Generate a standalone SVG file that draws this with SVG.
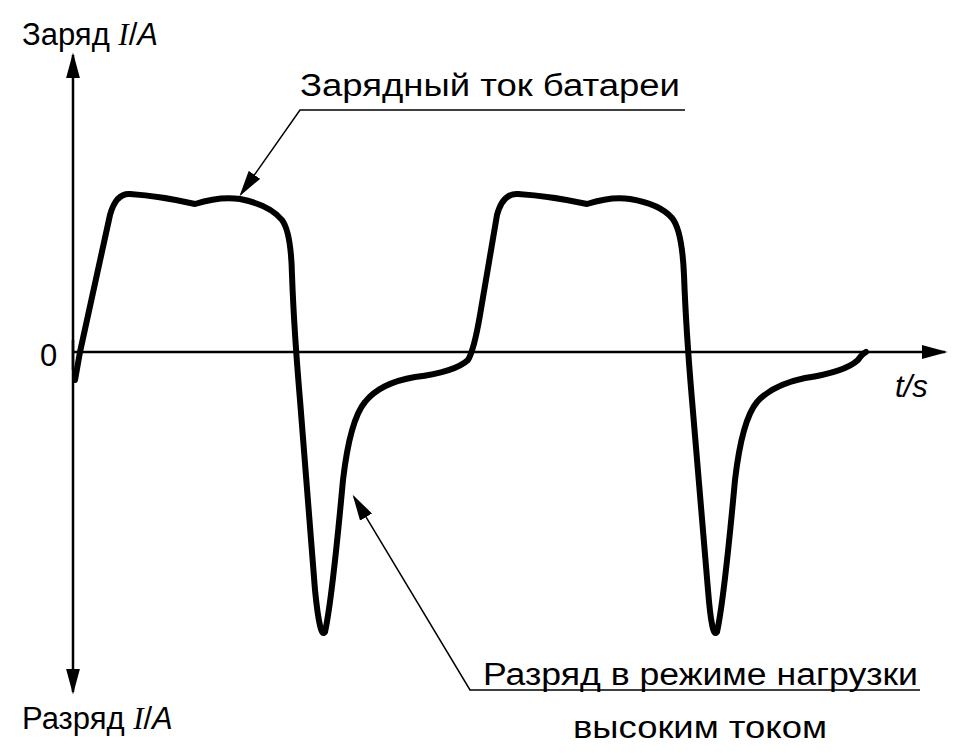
<svg xmlns="http://www.w3.org/2000/svg" width="967" height="753" viewBox="0 0 967 753">
<style>
text{font-family:"Liberation Sans",Arial,sans-serif;font-size:31px;fill:#000}
.ax{stroke:#000;stroke-width:2.5;fill:none}
.thin{stroke:#000;stroke-width:1.5;fill:none}
.curve{stroke:#000;stroke-width:6;fill:none;stroke-linejoin:round;stroke-linecap:round}
</style>
<defs>
<marker id="big" viewBox="0 0 10 10" refX="9" refY="5" markerWidth="26" markerHeight="14" markerUnits="userSpaceOnUse" orient="auto" preserveAspectRatio="none"><path d="M0,0 L10,5 L0,10 z" fill="#000"/></marker>
</defs>
<rect width="967" height="753" fill="#fff"/>
<g id="axes">
<line class="ax" x1="73" y1="370" x2="73" y2="55" marker-end="url(#big)"/>
<line class="ax" x1="73" y1="340" x2="73" y2="692" marker-end="url(#big)"/>
<line class="ax" x1="73" y1="352" x2="945" y2="352" marker-end="url(#big)"/>
</g>
<g id="curve">
<path class="curve" d="M75,380 L80,352 L110,215 Q116,193 130,194 Q160,196 195,204 Q220,196 240,199 Q270,205 282,220 Q291,232 292,275 Q294,330 300,400 L315,590 Q320,640 325,632 Q332,600 343,480 Q350,420 365,402 Q380,383 415,377 Q455,372 468,360 Q474,350 480,315 L497,215 Q503,193 518,194 Q550,196 587,204 Q612,196 630,199 Q660,204 672,218 Q682,230 684,275 Q686,330 692,400 L708,590 Q712,640 717,632 Q724,600 735,480 Q742,420 757,402 Q772,385 805,378 Q845,372 858,360 Q862,354 866,352"/>
</g>
<g id="connectors">
<polyline class="thin" points="685,110 300,110 241,194" marker-end="url(#big)"/>
<polyline class="thin" points="920,690 470,690 354,497" marker-end="url(#big)"/>
</g>
<g id="labels">
<text x="22" y="45">Заряд <tspan font-family="Liberation Serif" font-style="italic">I</tspan>/<tspan font-style="italic">A</tspan></text>
<text x="22" y="729">Разряд <tspan font-family="Liberation Serif" font-style="italic">I</tspan>/<tspan font-style="italic">A</tspan></text>
<text x="40" y="366">0</text>
<text x="895" y="397" font-style="italic">t/s</text>
<text x="300" y="96" textLength="380" lengthAdjust="spacingAndGlyphs">Зарядный ток батареи</text>
<text x="483" y="685" textLength="435" lengthAdjust="spacingAndGlyphs">Разряд в режиме нагрузки</text>
<text x="573" y="738" textLength="254" lengthAdjust="spacingAndGlyphs">высоким током</text>
</g>
</svg>
